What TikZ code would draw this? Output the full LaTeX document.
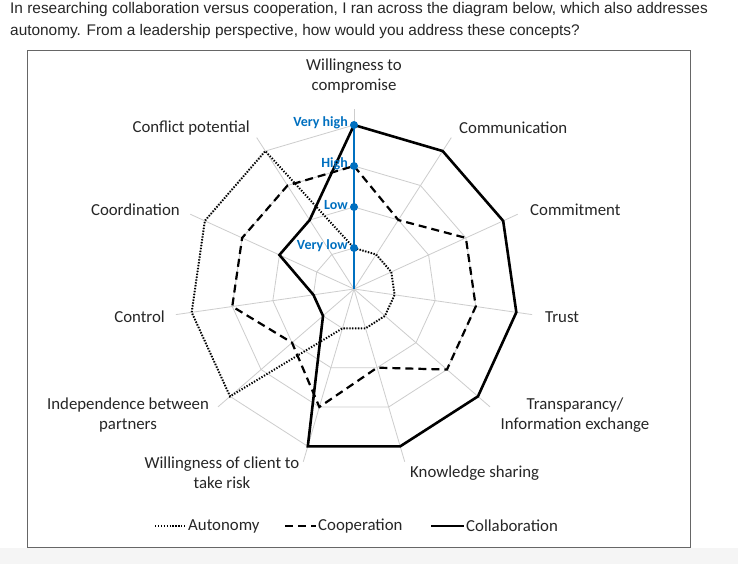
\documentclass[tikz,border=0pt]{standalone}
\usepackage{fontspec}
\setmainfont{Carlito}
\newfontfamily\headfont{Liberation Sans}
\definecolor{axblue}{RGB}{0,112,192}
\definecolor{gridgray}{RGB}{205,205,205}
\newcommand\rp[2]{({90-#1*360/11}:{#2*41pt})}
\tikzset{
  gridline/.style={gridgray, line width=0.8pt},
  lab/.style={font=\fontsize{16.8}{20}\selectfont, inner sep=1pt, text=black!85},
  collab/.style={black, line width=2.6pt, line join=miter},
  coop/.style={black, line width=2.2pt, dash pattern=on 8pt off 5pt},
  auton/.style={black, line width=2pt, dash pattern=on 1.3pt off 1.6pt},
  lvl/.style={font=\bfseries\fontsize{14}{16}\selectfont, text=axblue, anchor=east, inner sep=1pt},
  dot/.style={circle, fill=axblue, inner sep=0pt, minimum size=8pt}
}
\begin{document}
\begin{tikzpicture}[x=1pt,y=-1pt]
\useasboundingbox (0,0) rectangle (738,564);
\fill[black!4] (0,548) rectangle (738,564);
\node[anchor=west, font=\headfont\fontsize{15.4}{22}\selectfont, text=black!85, align=left, inner sep=0pt] (head) at (10,21) {In researching collaboration versus cooperation, I ran across the diagram below, which also addresses\\autonomy. From a leadership perspective, how would you address these concepts?};
\draw[black!60, line width=1pt, fill=white] (27,51) rectangle (690,547);
\coordinate (C) at (354,289);
\begin{scope}[shift={(C)}, y=1pt]
  \foreach \k in {0,...,10} { \draw[gridline] (0,0) -- ({90-\k*360/11}:180pt); }
  \foreach \v in {1,2,3,4} {
    \draw[gridline] \rp{0}{\v} \foreach \k in {1,...,10} { -- \rp{\k}{\v} } -- cycle;
  }
  \draw[axblue, line width=1.2pt] (0,0) -- (0,164);
  \draw[auton] \rp{0}{1} -- \rp{1}{1} -- \rp{2}{1} -- \rp{3}{1} -- \rp{4}{1} -- \rp{5}{1} -- \rp{6}{1} -- \rp{7}{4} -- \rp{8}{4} -- \rp{9}{4} -- \rp{10}{4} -- cycle;
  \draw[coop] \rp{0}{3} -- \rp{1}{2} -- \rp{2}{3} -- \rp{3}{3} -- \rp{4}{3} -- \rp{5}{2} -- \rp{6}{3} -- \rp{7}{2} -- \rp{8}{3} -- \rp{9}{3} -- \rp{10}{3} -- cycle;
  \draw[collab] \rp{0}{4} -- \rp{1}{4} -- \rp{2}{4} -- \rp{3}{4} -- \rp{4}{4} -- \rp{5}{4} -- \rp{6}{4} -- \rp{7}{1} -- \rp{8}{1} -- \rp{9}{2} -- \rp{10}{2} -- cycle;
  \node[dot] (d4) at (0,164) {}; \node[lvl] at (-5,166) {Very high};
  \node[dot] (d3) at (0,123) {}; \node[lvl] at (-5,125) {High};
  \node[dot] (d2) at (0,82) {};  \node[lvl] at (-5,84) {Low};
  \node[dot] (d1) at (0,41) {};  \node[lvl] at (-5,43) {Very low};
\end{scope}
\node[lab, align=center] (l0) at (354,76) {Willingness to\\compromise};
\node[lab, anchor=west] (l1) at (458,128) {Communication};
\node[lab, anchor=west] (l2) at (529,210) {Commitment};
\node[lab, anchor=west] (l3) at (544,317) {Trust};
\node[lab, align=center] (l4) at (575,415) {Transparancy/\\Information exchange};
\node[lab, anchor=west] (l5) at (409,473) {Knowledge sharing};
\node[lab, align=center] (l6) at (222,473) {Willingness of client to\\take risk};
\node[lab, align=center] (l7) at (128,415) {Independence between\\partners};
\node[lab, anchor=east] (l8) at (166,317) {Control};
\node[lab, anchor=east] (l9) at (181,210) {Coordination};
\node[lab, anchor=east] (l10) at (251,128) {Conflict potential};
\coordinate (a1) at (155,526); \coordinate (a2) at (186,526);
\draw[auton, line width=1.8pt] (a1) -- (a2);
\node[lab, anchor=west] (la) at (187,526) {Autonomy};
\coordinate (b1) at (285,526); \coordinate (b2) at (316,526);
\draw[coop, line width=2.4pt] (b1) -- (b2);
\node[lab, anchor=west] (lb) at (317,526) {Cooperation};
\coordinate (c1) at (431,526); \coordinate (c2) at (464,526);
\draw[collab] (c1) -- (c2);
\node[lab, anchor=west] (lc) at (465,526) {Collaboration};
\end{tikzpicture}
\end{document}
